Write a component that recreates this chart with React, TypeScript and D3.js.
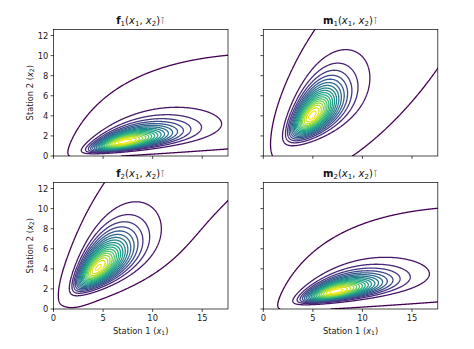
import React, { useMemo } from 'react';
import * as d3 from 'd3';

const W = 474;
const H = 349;

// panel order: f1, m1, f2, m2
const panelLetters = ['f', 'm', 'f', 'm'];
const panelSubs = ['1', '1', '2', '2'];
const panelLeft = [53.5, 263.3, 53.5, 263.3];
const panelTop = [29.5, 29.5, 182.5, 182.5];
const panelW = 174.5;
const panelH = 126.5;
const xLimits = [0, 17.6];
const yLimits = [0, 12.6];
const xTicks = [0, 5, 10, 15];
const yTicks = [0, 2, 4, 6, 8, 10, 12];
const contourLevels = [1, 2, 3, 4, 5, 6, 7, 8, 9, 10, 11, 12, 13, 14, 15, 16, 17, 18, 19];

// core (peaked) component: Gaussian in log(x + shift) coordinates
const coreShift = [[1, 0.5], [2, 2], [1, 1], [1, 0.5]];
const coreCenter = [[2.1, 0.66], [1.935, 1.8], [1.706, 1.636], [2.12, 0.82]];
const coreSpread = [[0.302, 0.394], [0.231, 0.282], [0.311, 0.329], [0.29, 0.355]];
const coreRho = [0.63, 0.6, 0.65, 0.62];
const coreHeight = [18.2, 18.2, 18.2, 18.2];

// broad tail component: ellipse (semi-axes at the lowest level) in log(x + shift) or linear coordinates
const tailLog = [true, false, false, true];
const tailShift = [[0, 1], [0, 0], [0, 0], [0, 1]];
const tailCenter = [[2.1, 1.117], [11.7, 11.0], [35.9, 40.15], [2.1, 1.117]];
const tailAxes = [[1.72, 1.303], [10.9, 13.1], [35.33, 40.0], [1.72, 1.303]];
const tailRho = [0.6, 0.735, 0.9624, 0.6];
const tailHeight = [1.5, 1.5, 1.6, 1.5];

const gridMin = [-0.4, -0.4];
const gridStep = 0.04;
const gridN = [486, 361];

function quad(u: number, v: number, c: number[], s: number[], rho: number) {
  const a = (u - c[0]) / s[0];
  const b = (v - c[1]) / s[1];
  return (a * a - 2 * rho * a * b + b * b) / (1 - rho * rho);
}

function field(p: number, x1: number, x2: number) {
  const y1 = Math.max(x1, 1e-4);
  const y2 = Math.max(x2, 1e-4);
  const cu = Math.log(y1 + coreShift[p][0]);
  const cv = Math.log(y2 + coreShift[p][1]);
  const core = coreHeight[p] * Math.exp(-0.5 * quad(cu, cv, coreCenter[p], coreSpread[p], coreRho[p]));
  const tu = tailLog[p] ? Math.log(y1 + tailShift[p][0]) : Math.max(x1, 0);
  const tv = tailLog[p] ? Math.log(y2 + tailShift[p][1]) : Math.max(x2, 0);
  const q = quad(tu, tv, tailCenter[p], tailAxes[p], tailRho[p]);
  const tail = Math.exp((1 - q) * Math.log(tailHeight[p]));
  return core + tail;
}

function buildPaths(p: number, sx: d3.ScaleLinear<number, number>, sy: d3.ScaleLinear<number, number>) {
  const [n1, n2] = gridN;
  const values = new Float64Array(n1 * n2);
  for (let j = 0; j < n2; j++) {
    const x2 = gridMin[1] + j * gridStep;
    for (let i = 0; i < n1; i++) {
      const x1 = gridMin[0] + i * gridStep;
      values[j * n1 + i] = field(p, x1, x2);
    }
  }
  const cs = d3.contours().size([n1, n2]).thresholds(contourLevels)(values as any);
  return cs.map((c) => {
    let d = '';
    for (const poly of c.coordinates) {
      for (const ring of poly) {
        d += 'M' + ring
          .map((pt) => {
            const x1 = gridMin[0] + (pt[0] - 0.5) * gridStep;
            const x2 = gridMin[1] + (pt[1] - 0.5) * gridStep;
            return sx(x1).toFixed(2) + ',' + sy(x2).toFixed(2);
          })
          .join('L') + 'Z';
      }
    }
    return { value: c.value, d };
  });
}

const FONT = 'DejaVu Sans, sans-serif';

function Panel({ p }: { p: number }) {
  const x0 = panelLeft[p];
  const y0 = panelTop[p];
  const sx = d3.scaleLinear().domain(xLimits).range([x0, x0 + panelW]);
  const sy = d3.scaleLinear().domain(yLimits).range([y0 + panelH, y0]);
  const paths = useMemo(() => buildPaths(p, sx, sy), [p]);
  const lo = contourLevels[0];
  const hi = contourLevels[contourLevels.length - 1];
  const color = (v: number) => d3.interpolateViridis((v - lo) / (hi - lo));
  const showX = p >= 2;
  const showY = p % 2 === 0;
  const cx = x0 + panelW / 2;
  return (
    <g>
      <defs>
        <clipPath id={'clip' + p}>
          <rect x={x0} y={y0} width={panelW} height={panelH} />
        </clipPath>
      </defs>
      <g clipPath={`url(#clip${p})`} fill="none" strokeWidth={1.3} strokeLinejoin="round">
        {paths.map((c, k) => (
          <path key={k} d={c.d} stroke={color(c.value)} />
        ))}
      </g>
      <rect x={x0} y={y0} width={panelW} height={panelH} fill="none" stroke="#000" strokeWidth={0.7} />
      {xTicks.map((t) => (
        <g key={'x' + t}>
          <line x1={sx(t)} x2={sx(t)} y1={y0 + panelH} y2={y0 + panelH + 2.9} stroke="#000" strokeWidth={0.7} />
          {showX && (
            <text x={sx(t)} y={y0 + panelH + 12} fontSize={8.3} fontFamily={FONT} textAnchor="middle" fill="#222">
              {t}
            </text>
          )}
        </g>
      ))}
      {yTicks.map((t) => (
        <g key={'y' + t}>
          <line x1={x0 - 2.9} x2={x0} y1={sy(t)} y2={sy(t)} stroke="#000" strokeWidth={0.7} />
          {showY && (
            <text x={x0 - 5.2} y={sy(t) + 3} fontSize={8.3} fontFamily={FONT} textAnchor="end" fill="#222">
              {t}
            </text>
          )}
        </g>
      ))}
      <text x={cx} y={y0 - 6} fontSize={10} fontFamily={FONT} textAnchor="middle" fill="#111">
        <tspan fontWeight="bold">{panelLetters[p]}</tspan>
        <tspan fontSize={7} dy={2}>{panelSubs[p]}</tspan>
        <tspan dy={-2}>(</tspan>
        <tspan fontStyle="italic">x</tspan>
        <tspan fontSize={7} dy={2}>1</tspan>
        <tspan dy={-2}>, </tspan>
        <tspan fontStyle="italic">x</tspan>
        <tspan fontSize={7} dy={2}>2</tspan>
        <tspan dy={-2}>)</tspan>
        <tspan fill="#777">⊺</tspan>
      </text>
      {showX && (
        <text x={cx} y={333.5} fontSize={8.3} fontFamily={FONT} textAnchor="middle" fill="#222">
          Station 1 (<tspan fontStyle="italic">x</tspan>
          <tspan fontSize={6} dy={1.6}>1</tspan>
          <tspan dy={-1.6}>)</tspan>
        </text>
      )}
      {showY && (
        <text
          transform={`translate(32.5,${y0 + panelH / 2}) rotate(-90)`}
          fontSize={8.3}
          fontFamily={FONT}
          textAnchor="middle"
          fill="#222"
        >
          Station 2 (<tspan fontStyle="italic">x</tspan>
          <tspan fontSize={6} dy={1.6}>2</tspan>
          <tspan dy={-1.6}>)</tspan>
        </text>
      )}
    </g>
  );
}

export default function App() {
  return (
    <svg
      width={W}
      height={H}
      viewBox={`0 0 ${W} ${H}`}
      style={{ position: 'absolute', left: 0, top: 0, background: '#fff' }}
    >
      <rect width={W} height={H} fill="#fff" />
      {[0, 1, 2, 3].map((p) => (
        <Panel key={p} p={p} />
      ))}
    </svg>
  );
}
